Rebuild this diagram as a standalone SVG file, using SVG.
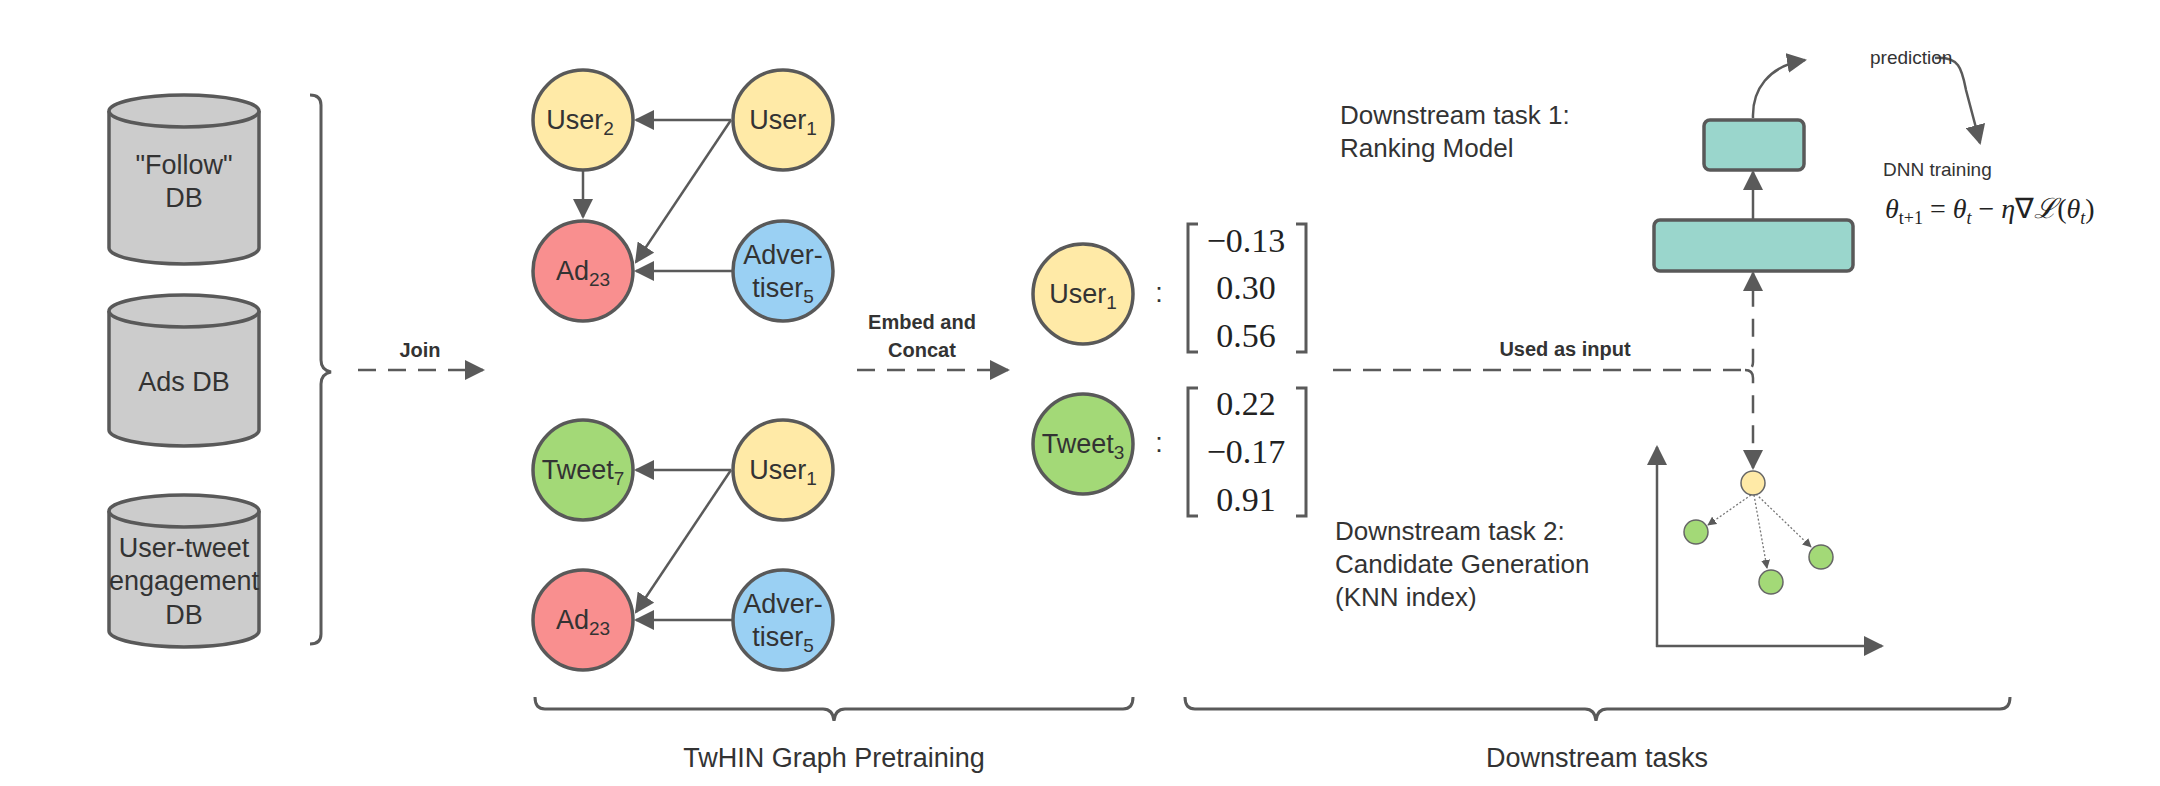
<svg xmlns="http://www.w3.org/2000/svg" width="2160" height="786" viewBox="0 0 2160 786">
<style>
text{font-family:"Liberation Sans",Arial,sans-serif;fill:#333}
.n{stroke:#595959;stroke-width:3.5}
.l{font-size:27px;text-anchor:middle}
.s{font-size:19px}
.b{font-size:20px;font-weight:bold;text-anchor:middle}
.d{font-size:26px}
.m{font-family:"Liberation Serif","Times New Roman",serif;font-size:34px;text-anchor:middle;fill:#222}
.e{stroke:#5a5a5a;stroke-width:2.5;fill:none}
.dash{stroke:#5a5a5a;stroke-width:2.5;fill:none;stroke-dasharray:18 12}
.br{stroke:#5a5a5a;stroke-width:3;fill:none}
</style>
<defs>
<marker id="a" viewBox="0 0 10 10" refX="9" refY="5" markerWidth="9" markerHeight="9" markerUnits="userSpaceOnUse" orient="auto"><path d="M0,0L10,5L0,10z" fill="#5a5a5a"/></marker>
<marker id="A" viewBox="0 0 10 10" refX="9" refY="5" markerWidth="20" markerHeight="20" markerUnits="userSpaceOnUse" orient="auto"><path d="M0,0L10,5L0,10z" fill="#5a5a5a"/></marker>
</defs>
<g id="db1"><path class="n" fill="#cccccc" d="M109,111v137a75,16 0 0 0 150,0v-137"/><ellipse class="n" fill="#cccccc" cx="184" cy="111" rx="75" ry="16"/><text class="l" x="184" y="174">"Follow"</text><text class="l" x="184" y="207">DB</text></g>
<g id="db2"><path class="n" fill="#cccccc" d="M109,311v119a75,16 0 0 0 150,0v-119"/><ellipse class="n" fill="#cccccc" cx="184" cy="311" rx="75" ry="16"/><text class="l" x="184" y="391">Ads DB</text></g>
<g id="db3"><path class="n" fill="#cccccc" d="M109,511v120a75,16 0 0 0 150,0v-120"/><ellipse class="n" fill="#cccccc" cx="184" cy="511" rx="75" ry="16"/><text class="l" x="184" y="557">User-tweet</text><text class="l" x="184" y="590">engagement</text><text class="l" x="184" y="624">DB</text></g>
<g id="brace-left"><path class="br" d="M310,95q11,0 11,10v255q0,10 10,12q-10,2 -10,12v250q0,10 -11,10"/></g>
<g id="brace-bottom1"><path class="br" d="M535,697q0,12 10,12h278q10,0 11,12q1,-12 11,-12h278q10,0 10,-12"/><text x="834" y="767" style="font-size:27px;text-anchor:middle">TwHIN Graph Pretraining</text></g>
<g id="brace-bottom2"><path class="br" d="M1185,697q0,12 10,12h390q10,0 11,12q1,-12 11,-12h393q10,0 10,-12"/><text x="1597" y="767" style="font-size:27px;text-anchor:middle">Downstream tasks</text></g>

<g id="connectors">
<line class="e" x1="731" y1="120" x2="636" y2="120" marker-end="url(#A)"/>
<line class="e" x1="583" y1="170" x2="583" y2="217" marker-end="url(#A)"/>
<line class="e" x1="731" y1="120" x2="636" y2="262" marker-end="url(#A)"/>
<line class="e" x1="733" y1="271" x2="636" y2="271" marker-end="url(#A)"/>
<line class="e" x1="731" y1="470" x2="636" y2="470" marker-end="url(#A)"/>
<line class="e" x1="731" y1="470" x2="636" y2="612" marker-end="url(#A)"/>
<line class="e" x1="733" y1="620" x2="636" y2="620" marker-end="url(#A)"/>
<line class="dash" x1="358" y1="370" x2="483" y2="370" marker-end="url(#A)"/>
<text class="b" x="420" y="357">Join</text>
<line class="dash" x1="857" y1="370" x2="1008" y2="370" marker-end="url(#A)"/>
<text class="b" x="922" y="329">Embed and</text>
<text class="b" x="922" y="357">Concat</text>
<path class="dash" d="M1333,370H1745q8,0 8,-8V273" marker-end="url(#A)"/>
<path class="dash" d="M1745,370q8,0 8,8V468" marker-end="url(#A)"/>
<text class="b" x="1565" y="356">Used as input</text>
<line class="e" x1="1753" y1="219" x2="1753" y2="172" marker-end="url(#A)"/>
<path class="e" d="M1753,118C1752,90 1768,66 1805,60" marker-end="url(#A)"/>
<path class="e" d="M1935,58C1960,56 1962,70 1966,90L1980,143" marker-end="url(#A)"/>
<line class="e" x1="1657" y1="647" x2="1657" y2="447" marker-end="url(#A)"/>
<line class="e" x1="1656" y1="646" x2="1882" y2="646" marker-end="url(#A)"/>
<g stroke="#777" stroke-width="1.3" stroke-dasharray="2 2" fill="none">
<line x1="1751" y1="495" x2="1708" y2="525" marker-end="url(#a)"/>
<line x1="1754" y1="495" x2="1767" y2="568" marker-end="url(#a)"/>
<line x1="1756" y1="494" x2="1811" y2="547" marker-end="url(#a)"/>
</g>
</g>

<g id="user2"><circle class="n" fill="#ffeaa7" cx="583" cy="120" r="50"/><text class="l" x="580" y="129">User<tspan class="s" dy="6">2</tspan></text></g>
<g id="user1a"><circle class="n" fill="#ffeaa7" cx="783" cy="120" r="50"/><text class="l" x="783" y="129">User<tspan class="s" dy="6">1</tspan></text></g>
<g id="ad23a"><circle class="n" fill="#f98f8f" cx="583" cy="271" r="50"/><text class="l" x="583" y="280">Ad<tspan class="s" dy="6">23</tspan></text></g>
<g id="adv5a"><circle class="n" fill="#9ad0f3" cx="783" cy="271" r="50"/><text class="l" x="783" y="264">Adver-</text><text class="l" x="783" y="297">tiser<tspan class="s" dy="6">5</tspan></text></g>
<g id="tweet7"><circle class="n" fill="#a3d977" cx="583" cy="470" r="50"/><text class="l" x="583" y="479">Tweet<tspan class="s" dy="6">7</tspan></text></g>
<g id="user1b"><circle class="n" fill="#ffeaa7" cx="783" cy="470" r="50"/><text class="l" x="783" y="479">User<tspan class="s" dy="6">1</tspan></text></g>
<g id="ad23b"><circle class="n" fill="#f98f8f" cx="583" cy="620" r="50"/><text class="l" x="583" y="629">Ad<tspan class="s" dy="6">23</tspan></text></g>
<g id="adv5b"><circle class="n" fill="#9ad0f3" cx="783" cy="620" r="50"/><text class="l" x="783" y="613">Adver-</text><text class="l" x="783" y="646">tiser<tspan class="s" dy="6">5</tspan></text></g>

<g id="user1c"><circle class="n" fill="#ffeaa7" cx="1083" cy="294" r="50"/><text class="l" x="1083" y="303">User<tspan class="s" dy="6">1</tspan></text><text class="l" x="1159" y="302">:</text></g>
<g id="vec1"><path class="br" stroke-width="2.5" d="M1198,224h-10v128h10M1296,224h10v128h-10"/><text class="m" x="1246" y="252">−0.13</text><text class="m" x="1246" y="299">0.30</text><text class="m" x="1246" y="347">0.56</text></g>
<g id="tweet3"><circle class="n" fill="#a3d977" cx="1083" cy="444" r="50"/><text class="l" x="1083" y="453">Tweet<tspan class="s" dy="6">3</tspan></text><text class="l" x="1159" y="452">:</text></g>
<g id="vec2"><path class="br" stroke-width="2.5" d="M1198,388h-10v128h10M1296,388h10v128h-10"/><text class="m" x="1246" y="415">0.22</text><text class="m" x="1246" y="463">−0.17</text><text class="m" x="1246" y="511">0.91</text></g>

<g id="task1"><text class="d" x="1340" y="124">Downstream task 1:</text><text class="d" x="1340" y="157">Ranking Model</text></g>
<g id="box-big"><rect class="n" fill="#9ad6cc" x="1654" y="220" width="199" height="51" rx="6"/></g>
<g id="box-small"><rect class="n" fill="#9ad6cc" x="1704" y="120" width="100" height="50" rx="6"/></g>
<text x="1870" y="64" style="font-size:19px">prediction</text>
<text x="1883" y="176" style="font-size:19px">DNN training</text>
<text x="1885" y="218" style="font-family:'Liberation Serif',serif;font-size:28px;font-style:italic;fill:#222">θ<tspan font-size="18" dy="6" font-style="normal">t+1</tspan><tspan dy="-6" font-style="normal"> = </tspan>θ<tspan font-size="18" dy="6">t</tspan><tspan dy="-6" font-style="normal"> − </tspan>η<tspan font-style="normal">∇</tspan>ℒ<tspan font-style="normal">(</tspan>θ<tspan font-size="18" dy="6">t</tspan><tspan dy="-6" font-style="normal">)</tspan></text>
<g id="task2"><text class="d" x="1335" y="540">Downstream task 2:</text><text class="d" x="1335" y="573">Candidate Generation</text><text class="d" x="1335" y="606">(KNN index)</text></g>
<g id="knn-query"><circle stroke="#666" stroke-width="1.5" fill="#ffeaa7" cx="1753" cy="483" r="12"/></g>
<g id="knn-1"><circle stroke="#666" stroke-width="1.5" fill="#a3d977" cx="1696" cy="532" r="12"/></g>
<g id="knn-2"><circle stroke="#666" stroke-width="1.5" fill="#a3d977" cx="1771" cy="582" r="12"/></g>
<g id="knn-3"><circle stroke="#666" stroke-width="1.5" fill="#a3d977" cx="1821" cy="557" r="12"/></g>
</svg>
